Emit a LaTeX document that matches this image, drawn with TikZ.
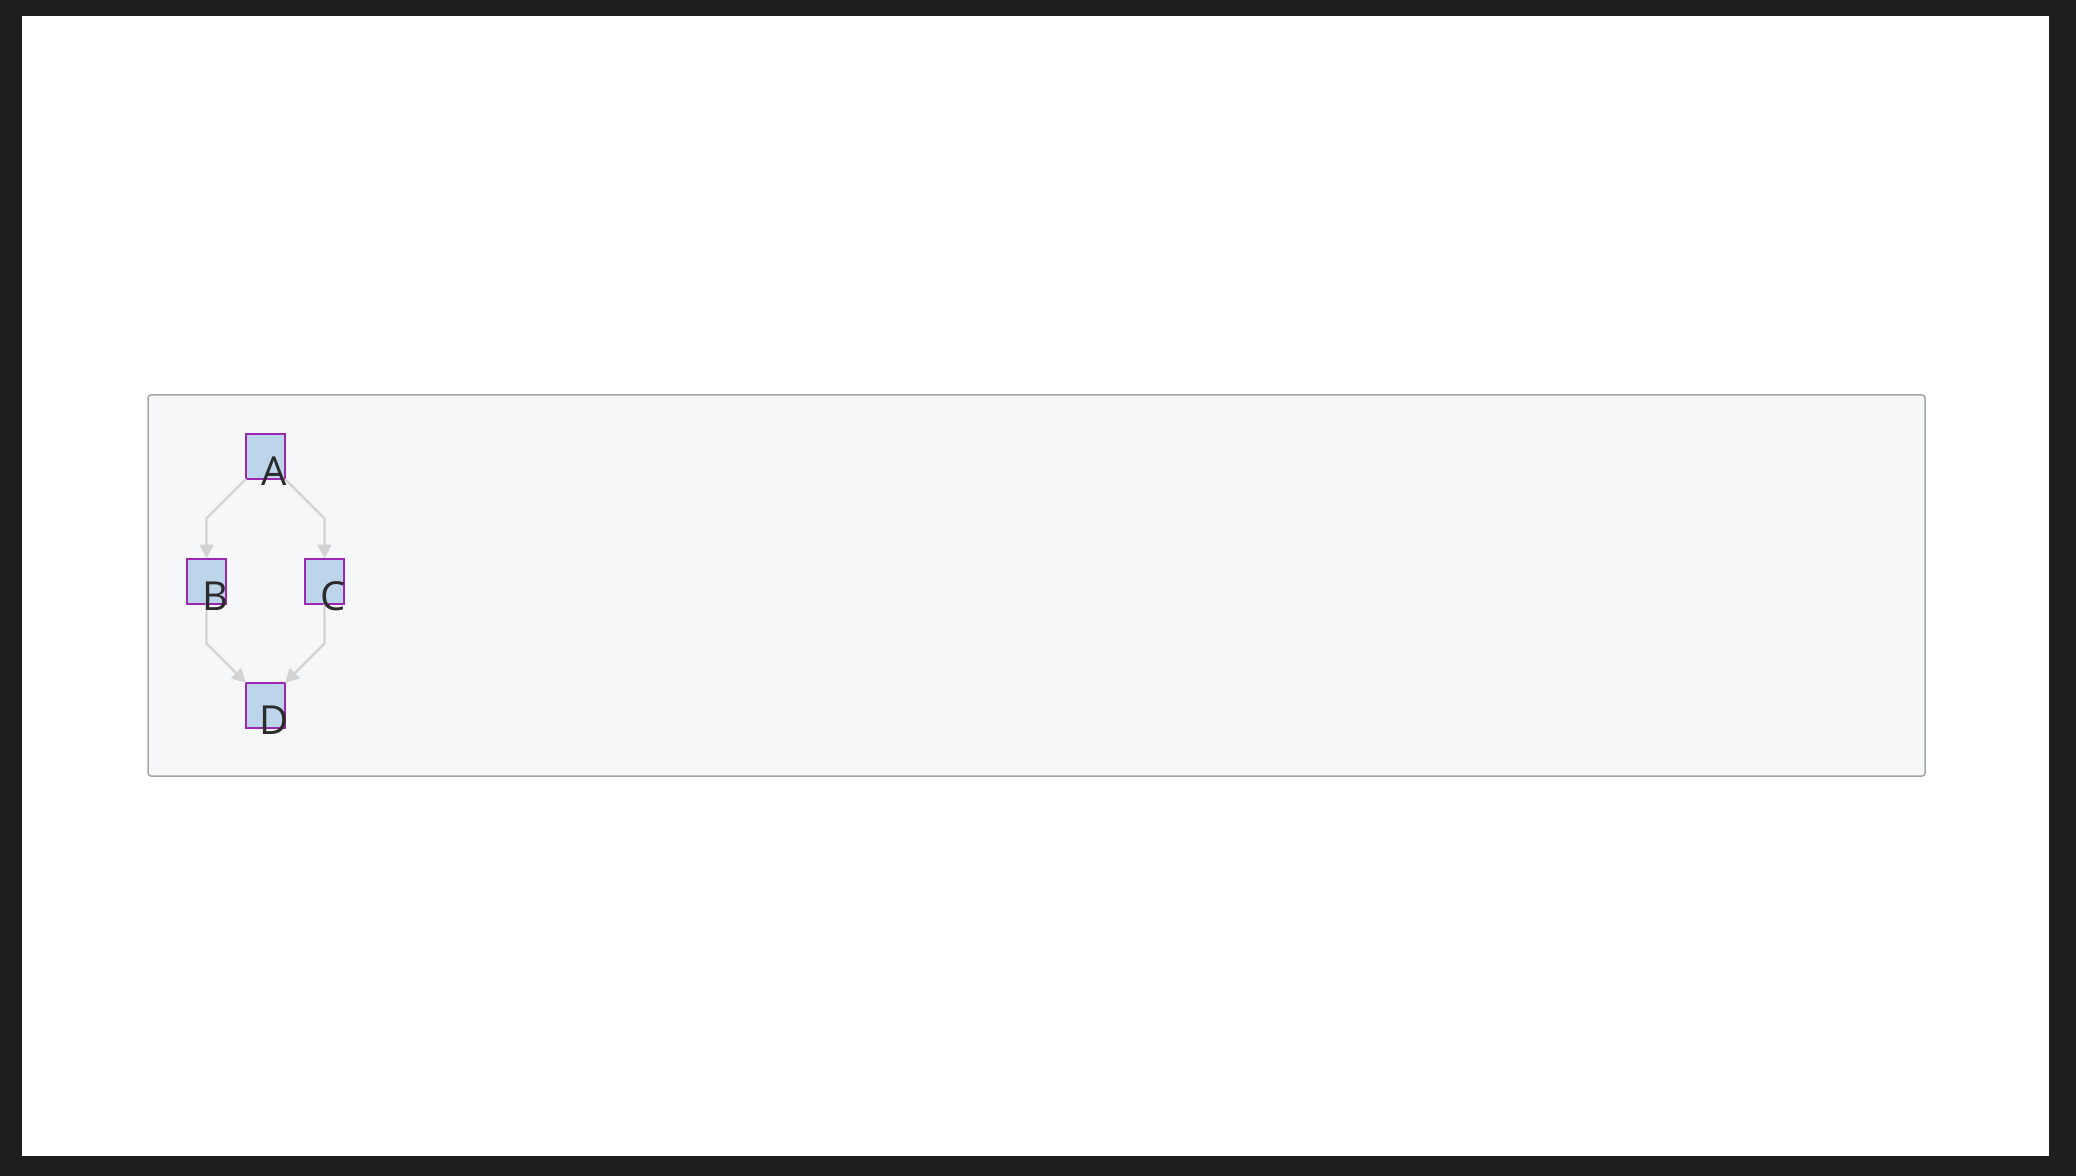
\documentclass[tikz,border=0pt]{standalone}
\usepackage{fontspec}
\setmainfont{Open Sans}
\usetikzlibrary{arrows.meta,calc}
\definecolor{frame}{HTML}{1E1E1E}
\definecolor{panelfill}{HTML}{F6F7F9}
\definecolor{panelborder}{HTML}{A6A6A6}
\definecolor{boxfill}{HTML}{BDD5EA}
\definecolor{boxborder}{HTML}{9C27B0}
\definecolor{edgecol}{HTML}{D3D3D3}
\definecolor{txt}{HTML}{2B2B2B}
\tikzset{
  vbox/.style={draw=boxborder, fill=boxfill, line width=1pt, minimum width=19.5pt, minimum height=22.5pt, inner sep=0pt, outer sep=0pt},
  lbl/.style={anchor=base, inner sep=0pt, text=txt, font=\fontsize{20}{20}\selectfont},
  edge/.style={draw=edgecol, line width=1.2pt, -{Triangle[length=7pt,width=7pt]}}
}
\begin{document}
\begin{tikzpicture}[x=0.5pt,y=-0.5pt]
\useasboundingbox (0,0) rectangle (2076,1176);
\fill[frame] (0,0) rectangle (2076,1176);
\fill[white] (22,16) rectangle (2049,1156);
\node[draw=panelborder, fill=panelfill, line width=0.75pt, rounded corners=1.5pt, minimum width=888.5pt, minimum height=190.5pt, inner sep=0pt] (panel) at (1036.5,585.5) {};
\node[vbox] (A) at (265.5,456.5) {};
\node[vbox] (B) at (206.5,581) {};
\node[vbox] (C) at (324.5,581) {};
\node[vbox] (D) at (265.5,705.5) {};
\draw[edge] (A.south west) -- ($(B.north)+(0,-40)$) -- (B.north);
\draw[edge] (A.south east) -- ($(C.north)+(0,-40)$) -- (C.north);
\draw[edge] (B.south) -- ($(B.south)+(0,40)$) -- (D.north west);
\draw[edge] (C.south) -- ($(C.south)+(0,40)$) -- (D.north east);
\node[lbl] (Al) at ($(A.center)+(8.5,29)$) {A};
\node[lbl] (Bl) at ($(B.center)+(8.5,29)$) {B};
\node[lbl] (Cl) at ($(C.center)+(8.5,29)$) {C};
\node[lbl] (Dl) at ($(D.center)+(8.5,29)$) {D};
\end{tikzpicture}
\end{document}
